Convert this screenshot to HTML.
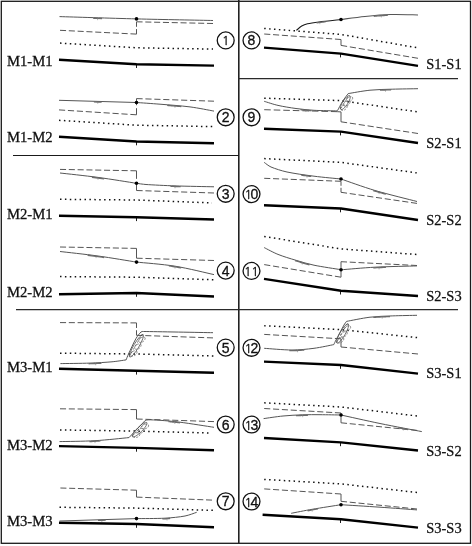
<!DOCTYPE html>
<html><head><meta charset="utf-8"><style>
html,body{margin:0;padding:0;background:#fff;}
svg{display:block;}
.lb{font-family:"Liberation Serif",serif;font-size:15.3px;fill:#111;stroke:#111;stroke-width:0.28px;}
.cn{font-family:"Liberation Sans",sans-serif;font-size:14px;fill:#111;text-anchor:middle;stroke:#111;stroke-width:0.3px;}
.one{font-family:"NanumGothic","Liberation Sans",sans-serif;font-size:12.4px;}
.cn2{}
</style></head><body>
<svg width="472" height="546" viewBox="0 0 472 546">
<rect x="1.3" y="1.3" width="469.2" height="542.0" fill="none" stroke="#1a1a1a" stroke-width="1.3"/>
<line x1="238.8" y1="0" x2="238.8" y2="544" stroke="#222" stroke-width="1.6"/>
<line x1="13" y1="155.5" x2="239" y2="155.5" stroke="#1a1a1a" stroke-width="1.2"/>
<line x1="16" y1="309.6" x2="458" y2="309.6" stroke="#2a2a2a" stroke-width="1.2"/>
<line x1="238" y1="78.7" x2="458" y2="78.7" stroke="#2a2a2a" stroke-width="1.25"/>
<text transform="translate(6.9 65.5) scale(0.96 1)" class="lb">M1-M1</text>
<text transform="translate(6.9 142.3) scale(0.96 1)" class="lb">M1-M2</text>
<text transform="translate(6.9 219.4) scale(0.96 1)" class="lb">M2-M1</text>
<text transform="translate(6.9 297.4) scale(0.96 1)" class="lb">M2-M2</text>
<text transform="translate(6.9 372.4) scale(0.96 1)" class="lb">M3-M1</text>
<text transform="translate(6.9 450.0) scale(0.96 1)" class="lb">M3-M2</text>
<text transform="translate(6.9 526.1) scale(0.96 1)" class="lb">M3-M3</text>
<text transform="translate(426.3 68.9) scale(0.945 1)" class="lb">S1-S1</text>
<text transform="translate(426.3 148.2) scale(0.945 1)" class="lb">S2-S1</text>
<text transform="translate(426.3 225.1) scale(0.945 1)" class="lb">S2-S2</text>
<text transform="translate(426.3 301.4) scale(0.945 1)" class="lb">S2-S3</text>
<text transform="translate(426.3 378.3) scale(0.945 1)" class="lb">S3-S1</text>
<text transform="translate(426.3 456.3) scale(0.945 1)" class="lb">S3-S2</text>
<text transform="translate(426.3 532.5) scale(0.945 1)" class="lb">S3-S3</text>
<circle cx="225.7" cy="40.4" r="8.45" fill="none" stroke="#111" stroke-width="1.3"/>
<text x="225.7" y="45.4" class="cn"><tspan class="one">1</tspan></text>
<circle cx="225.7" cy="117.3" r="8.45" fill="none" stroke="#111" stroke-width="1.3"/>
<text x="225.7" y="122.3" class="cn"><tspan>2</tspan></text>
<circle cx="225.7" cy="193.8" r="8.45" fill="none" stroke="#111" stroke-width="1.3"/>
<text x="225.7" y="198.8" class="cn"><tspan>3</tspan></text>
<circle cx="225.7" cy="270.6" r="8.45" fill="none" stroke="#111" stroke-width="1.3"/>
<text x="225.7" y="275.6" class="cn"><tspan>4</tspan></text>
<circle cx="225.7" cy="347.6" r="8.45" fill="none" stroke="#111" stroke-width="1.3"/>
<text x="225.7" y="352.6" class="cn"><tspan>5</tspan></text>
<circle cx="225.7" cy="424.5" r="8.45" fill="none" stroke="#111" stroke-width="1.3"/>
<text x="225.7" y="429.5" class="cn"><tspan>6</tspan></text>
<circle cx="225.7" cy="501.3" r="8.45" fill="none" stroke="#111" stroke-width="1.3"/>
<text x="225.7" y="506.3" class="cn"><tspan>7</tspan></text>
<circle cx="251.5" cy="40.4" r="8.45" fill="none" stroke="#111" stroke-width="1.3"/>
<text x="251.5" y="45.4" class="cn"><tspan>8</tspan></text>
<circle cx="251.5" cy="117.3" r="8.45" fill="none" stroke="#111" stroke-width="1.3"/>
<text x="251.5" y="122.3" class="cn"><tspan>9</tspan></text>
<circle cx="251.5" cy="194.1" r="8.45" fill="none" stroke="#111" stroke-width="1.3"/>
<text x="251.4" y="199.1" class="cn cn2"><tspan class="one">1</tspan><tspan dx="-1.3">0</tspan></text>
<circle cx="251.5" cy="270.9" r="8.45" fill="none" stroke="#111" stroke-width="1.3"/>
<text x="251.4" y="275.9" class="cn cn2"><tspan class="one">1</tspan><tspan class="one" dx="-0.4">1</tspan></text>
<circle cx="251.5" cy="347.8" r="8.45" fill="none" stroke="#111" stroke-width="1.3"/>
<text x="251.4" y="352.8" class="cn cn2"><tspan class="one">1</tspan><tspan dx="-1.3">2</tspan></text>
<circle cx="251.5" cy="424.5" r="8.45" fill="none" stroke="#111" stroke-width="1.3"/>
<text x="251.4" y="429.5" class="cn cn2"><tspan class="one">1</tspan><tspan dx="-1.3">3</tspan></text>
<circle cx="251.5" cy="501.5" r="8.45" fill="none" stroke="#111" stroke-width="1.3"/>
<text x="251.4" y="506.5" class="cn cn2"><tspan class="one">1</tspan><tspan dx="-1.3">4</tspan></text>
<line x1="136.5" y1="64.2" x2="136.5" y2="68.0" stroke="#111" stroke-width="0.95"/>
<path d="M59.00 59.70 L136.50 64.20 L214.00 65.60" fill="none" stroke="#000" stroke-width="2.4" stroke-linejoin="round"/>
<path d="M60.00 43.10 L136.50 47.80 L213.00 49.10" fill="none" stroke="#111" stroke-width="1.5" stroke-dasharray="1.5 3.4"/>
<line x1="60.00" y1="30.30" x2="136.50" y2="34.10" stroke="#555" stroke-width="1.0" stroke-dasharray="6.073 2.743"/>
<line x1="136.50" y1="34.10" x2="136.50" y2="21.80" stroke="#555" stroke-width="1.0" stroke-dasharray="5.017 2.266"/>
<line x1="136.50" y1="21.80" x2="213.00" y2="23.50" stroke="#555" stroke-width="1.0" stroke-dasharray="6.067 2.740"/>
<path d="M59.50 16.60 C72.33 16.98 110.92 18.25 136.50 18.90 C162.00 19.55 200.25 20.23 213.00 20.50" fill="none" stroke="#555" stroke-width="1.0"/>
<path d="M93.22 18.25 L97.60 18.38 L102.04 18.52" fill="none" stroke="#6a6a6a" stroke-width="1.35"/>
<line x1="97.60" y1="18.38" x2="97.60" y2="20.18" stroke="#888" stroke-width="0.6"/>
<circle cx="136.5" cy="18.9" r="1.8" fill="#000"/>
<line x1="136.5" y1="141.5" x2="136.5" y2="145.3" stroke="#111" stroke-width="0.95"/>
<path d="M59.00 136.70 L136.50 141.50 L214.00 143.20" fill="none" stroke="#000" stroke-width="2.4" stroke-linejoin="round"/>
<path d="M59.00 120.30 L136.50 125.20 L213.00 126.60" fill="none" stroke="#111" stroke-width="1.5" stroke-dasharray="1.5 3.4"/>
<line x1="59.00" y1="109.90" x2="136.50" y2="114.80" stroke="#555" stroke-width="1.0" stroke-dasharray="6.157 2.780"/>
<line x1="136.50" y1="114.80" x2="136.50" y2="98.60" stroke="#555" stroke-width="1.0" stroke-dasharray="6.608 2.984"/>
<line x1="136.50" y1="98.60" x2="214.00" y2="101.20" stroke="#555" stroke-width="1.0" stroke-dasharray="6.148 2.776"/>
<path d="M59.00 100.30 L136.50 102.50" fill="none" stroke="#555" stroke-width="1.0"/>
<path d="M136.50 102.50 C140.42 102.78 152.17 103.56 160.00 104.20 C168.92 104.93 181.00 105.75 190.00 106.90 C198.06 107.93 210.00 110.40 214.00 111.10" fill="none" stroke="#555" stroke-width="1.0"/>
<path d="M93.88 101.89 L97.75 102.00 L101.62 102.11" fill="none" stroke="#6a6a6a" stroke-width="1.35"/>
<line x1="97.75" y1="102.00" x2="97.75" y2="103.80" stroke="#888" stroke-width="0.6"/>
<path d="M167.18 105.37 L168.71 105.49 L170.26 105.61 L171.82 105.74 L173.39 105.86 L174.97 105.99 L176.55 106.13 L178.12 106.26 L179.68 106.40 L181.24 106.55" fill="none" stroke="#6a6a6a" stroke-width="1.35"/>
<line x1="174.97" y1="105.99" x2="174.97" y2="107.79" stroke="#888" stroke-width="0.6"/>
<circle cx="136.5" cy="102.5" r="1.8" fill="#000"/>
<line x1="136.5" y1="217.3" x2="136.5" y2="221.10000000000002" stroke="#111" stroke-width="0.95"/>
<path d="M59.00 215.80 L136.50 217.30 L214.00 219.50" fill="none" stroke="#000" stroke-width="2.4" stroke-linejoin="round"/>
<path d="M60.00 199.30 L136.50 200.00 L212.00 202.90" fill="none" stroke="#111" stroke-width="1.5" stroke-dasharray="1.5 3.4"/>
<line x1="60.00" y1="169.40" x2="136.50" y2="170.80" stroke="#555" stroke-width="1.0" stroke-dasharray="6.066 2.740"/>
<line x1="136.50" y1="170.80" x2="136.50" y2="190.50" stroke="#555" stroke-width="1.0" stroke-dasharray="8.036 3.629"/>
<line x1="136.50" y1="190.50" x2="214.00" y2="193.00" stroke="#555" stroke-width="1.0" stroke-dasharray="6.148 2.776"/>
<path d="M60.00 173.00 C66.33 173.73 85.36 175.70 98.00 177.40 C110.75 179.12 130.08 182.32 136.50 183.30" fill="none" stroke="#555" stroke-width="1.0"/>
<path d="M136.50 183.30 C138.08 183.50 142.82 184.28 146.00 184.50 C152.42 184.93 165.33 185.57 175.00 185.90 C186.33 186.28 207.50 186.65 214.00 186.80" fill="none" stroke="#555" stroke-width="1.0"/>
<path d="M91.95 177.22 L94.04 177.48 L96.06 177.74 L98.00 178.00 L99.96 178.27 L102.00 178.56 L104.12 178.86" fill="none" stroke="#6a6a6a" stroke-width="1.35"/>
<line x1="98.00" y1="178.00" x2="98.00" y2="179.80" stroke="#888" stroke-width="0.6"/>
<path d="M170.46 186.33 L172.01 186.39 L173.53 186.45 L175.00 186.50 L176.77 186.56 L178.67 186.61 L180.68 186.67" fill="none" stroke="#6a6a6a" stroke-width="1.35"/>
<line x1="175.00" y1="186.50" x2="175.00" y2="188.30" stroke="#888" stroke-width="0.6"/>
<circle cx="136.5" cy="183.3" r="1.8" fill="#000"/>
<line x1="136.5" y1="293.0" x2="136.5" y2="296.8" stroke="#111" stroke-width="0.95"/>
<path d="M59.00 294.20 L136.50 293.00 L214.00 296.50" fill="none" stroke="#000" stroke-width="2.4" stroke-linejoin="round"/>
<path d="M60.00 276.60 L136.50 277.20 L214.00 279.80" fill="none" stroke="#111" stroke-width="1.5" stroke-dasharray="1.5 3.4"/>
<line x1="60.00" y1="247.00" x2="136.50" y2="248.40" stroke="#555" stroke-width="1.0" stroke-dasharray="6.066 2.740"/>
<line x1="136.50" y1="248.40" x2="136.50" y2="258.20" stroke="#555" stroke-width="1.0"/>
<line x1="136.50" y1="258.20" x2="214.00" y2="260.50" stroke="#555" stroke-width="1.0" stroke-dasharray="6.147 2.776"/>
<path d="M60.00 251.50 C66.33 252.25 85.37 254.25 98.00 256.00 C110.75 257.77 130.08 261.08 136.50 262.10" fill="none" stroke="#555" stroke-width="1.0"/>
<path d="M136.50 262.10 C142.92 262.78 162.26 264.14 175.00 266.20 C187.92 268.28 207.50 273.20 214.00 274.60" fill="none" stroke="#555" stroke-width="1.0"/>
<path d="M87.62 255.26 L89.80 255.53 L91.95 255.80 L94.04 256.07 L96.06 256.34 L98.00 256.60 L99.96 256.88 L102.00 257.17 L104.12 257.49" fill="none" stroke="#6a6a6a" stroke-width="1.35"/>
<line x1="96.06" y1="256.34" x2="96.06" y2="258.14" stroke="#888" stroke-width="0.6"/>
<path d="M168.89 265.92 L171.00 266.20 L173.04 266.50 L175.00 266.80 L176.99 267.13 L179.06 267.50 L181.20 267.91" fill="none" stroke="#6a6a6a" stroke-width="1.35"/>
<line x1="175.00" y1="266.80" x2="175.00" y2="268.60" stroke="#888" stroke-width="0.6"/>
<circle cx="136.5" cy="262.1" r="1.8" fill="#000"/>
<line x1="136.5" y1="370.8" x2="136.5" y2="374.6" stroke="#111" stroke-width="0.95"/>
<path d="M59.00 368.70 L136.50 370.80 L214.00 372.80" fill="none" stroke="#000" stroke-width="2.4" stroke-linejoin="round"/>
<path d="M60.00 353.20 L136.50 354.00 L214.00 356.00" fill="none" stroke="#111" stroke-width="1.5" stroke-dasharray="1.5 3.4"/>
<line x1="60.00" y1="322.60" x2="136.50" y2="322.90" stroke="#555" stroke-width="1.0" stroke-dasharray="6.065 2.739"/>
<line x1="136.50" y1="322.90" x2="136.50" y2="335.30" stroke="#555" stroke-width="1.0" stroke-dasharray="5.058 2.284"/>
<line x1="136.50" y1="335.30" x2="213.00" y2="337.90" stroke="#555" stroke-width="1.0" stroke-dasharray="6.069 2.741"/>
<path d="M60.40 363.60 C65.33 363.52 81.40 363.40 90.00 363.10 C97.34 362.84 105.98 362.33 112.00 361.80 C116.72 361.38 123.75 360.22 126.10 359.90" fill="none" stroke="#555" stroke-width="1.0"/>
<path d="M126.10 359.90 C126.50 358.92 127.61 355.93 128.50 354.00 C130.15 350.43 133.92 342.17 136.00 338.50 C137.35 336.12 139.75 333.17 141.00 332.00 C141.62 331.42 142.65 331.49 143.50 331.50 C155.50 331.62 201.42 332.50 213.00 332.70" fill="none" stroke="#555" stroke-width="1.0"/>
<path d="M88.66 363.74 L90.00 363.70 L91.11 363.66 L92.24 363.62 L93.38 363.57 L94.53 363.52 L95.69 363.46 L96.85 363.41 L98.02 363.35 L99.18 363.29 L100.34 363.22 L101.50 363.15" fill="none" stroke="#6a6a6a" stroke-width="1.35"/>
<line x1="95.69" y1="363.46" x2="95.69" y2="365.26" stroke="#888" stroke-width="0.6"/>
<ellipse cx="136.47" cy="345.77" rx="13.10" ry="2.6" transform="rotate(-59.4 136.47 345.77)" fill="none" stroke="#555" stroke-width="0.75"/>
<ellipse cx="133.79" cy="353.44" rx="3.6" ry="2.2" transform="rotate(-34.4 133.79 353.44)" fill="none" stroke="#666" stroke-width="0.7" stroke-dasharray="2.2 1.2"/>
<ellipse cx="137.85" cy="346.58" rx="3.6" ry="2.2" transform="rotate(-34.4 137.85 346.58)" fill="none" stroke="#666" stroke-width="0.7" stroke-dasharray="2.2 1.2"/>
<ellipse cx="141.91" cy="339.72" rx="3.6" ry="2.2" transform="rotate(-34.4 141.91 339.72)" fill="none" stroke="#666" stroke-width="0.7" stroke-dasharray="2.2 1.2"/>
<line x1="129.26" y1="356.39" x2="142.31" y2="334.34" stroke="#444" stroke-width="0.75" stroke-dasharray="2.2 1.8"/>
<line x1="136.5" y1="447.9" x2="136.5" y2="451.7" stroke="#111" stroke-width="0.95"/>
<path d="M59.00 446.10 L136.50 447.90 L214.00 450.20" fill="none" stroke="#000" stroke-width="2.4" stroke-linejoin="round"/>
<path d="M60.00 429.90 L136.50 431.10 L210.00 433.00" fill="none" stroke="#111" stroke-width="1.5" stroke-dasharray="1.5 3.4"/>
<line x1="60.00" y1="408.80" x2="136.50" y2="409.60" stroke="#555" stroke-width="1.0" stroke-dasharray="6.066 2.739"/>
<line x1="136.50" y1="409.60" x2="136.50" y2="419.00" stroke="#555" stroke-width="1.0"/>
<line x1="136.50" y1="419.00" x2="214.00" y2="421.60" stroke="#555" stroke-width="1.0" stroke-dasharray="6.148 2.776"/>
<path d="M59.50 441.60 C65.42 441.45 83.42 441.37 95.00 440.70 C106.36 440.05 123.33 438.12 129.00 437.60" fill="none" stroke="#555" stroke-width="1.0"/>
<path d="M129.00 437.60 L145.20 420.50" fill="none" stroke="#555" stroke-width="1.0"/>
<path d="M145.20 420.50 C145.67 420.38 147.04 419.81 148.00 419.80 C150.47 419.77 156.01 420.00 160.00 420.30 C165.33 420.70 173.36 421.34 180.00 422.20 C189.00 423.37 208.33 426.45 214.00 427.30" fill="none" stroke="#555" stroke-width="1.0"/>
<path d="M89.42 441.56 L91.35 441.48 L93.22 441.40 L95.00 441.30 L96.74 441.19 L98.56 441.07 L100.43 440.93" fill="none" stroke="#6a6a6a" stroke-width="1.35"/>
<line x1="95.00" y1="441.30" x2="95.00" y2="443.10" stroke="#888" stroke-width="0.6"/>
<path d="M168.46 421.58 L169.51 421.68 L170.56 421.77 L171.63 421.87 L172.69 421.98 L173.76 422.09 L174.82 422.20 L175.88 422.31 L176.93 422.43 L177.97 422.55 L178.99 422.67 L180.00 422.80" fill="none" stroke="#6a6a6a" stroke-width="1.35"/>
<line x1="174.82" y1="422.20" x2="174.82" y2="424.00" stroke="#888" stroke-width="0.6"/>
<ellipse cx="139.66" cy="429.66" rx="10.08" ry="2.6" transform="rotate(-45.0 139.66 429.66)" fill="none" stroke="#555" stroke-width="0.75"/>
<ellipse cx="136.46" cy="435.14" rx="3.6" ry="2.2" transform="rotate(-20.0 136.46 435.14)" fill="none" stroke="#666" stroke-width="0.7" stroke-dasharray="2.2 1.2"/>
<ellipse cx="140.80" cy="430.80" rx="3.6" ry="2.2" transform="rotate(-20.0 140.80 430.80)" fill="none" stroke="#666" stroke-width="0.7" stroke-dasharray="2.2 1.2"/>
<ellipse cx="145.14" cy="426.46" rx="3.6" ry="2.2" transform="rotate(-20.0 145.14 426.46)" fill="none" stroke="#666" stroke-width="0.7" stroke-dasharray="2.2 1.2"/>
<line x1="132.12" y1="436.07" x2="146.07" y2="422.12" stroke="#444" stroke-width="0.75" stroke-dasharray="2.2 1.8"/>
<line x1="136.5" y1="524.0" x2="136.5" y2="527.8" stroke="#111" stroke-width="0.95"/>
<path d="M59.00 522.80 L136.50 524.00 L214.00 527.20" fill="none" stroke="#000" stroke-width="2.4" stroke-linejoin="round"/>
<path d="M59.50 507.30 L136.50 508.10 L214.00 510.40" fill="none" stroke="#111" stroke-width="1.5" stroke-dasharray="1.5 3.4"/>
<line x1="60.40" y1="488.00" x2="136.50" y2="490.20" stroke="#555" stroke-width="1.0" stroke-dasharray="6.036 2.726"/>
<line x1="136.50" y1="490.20" x2="136.50" y2="497.10" stroke="#555" stroke-width="1.0"/>
<line x1="136.50" y1="497.10" x2="212.00" y2="500.10" stroke="#555" stroke-width="1.0" stroke-dasharray="5.991 2.705"/>
<path d="M59.50 521.00 L136.50 518.60" fill="none" stroke="#555" stroke-width="1.0"/>
<path d="M136.50 518.60 C141.25 518.53 156.92 518.63 165.00 518.20 C171.70 517.84 179.72 516.98 185.00 516.00 C189.02 515.25 194.75 512.92 196.70 512.30" fill="none" stroke="#555" stroke-width="1.0"/>
<path d="M98.00 520.40 L101.85 520.28 L105.70 520.16" fill="none" stroke="#6a6a6a" stroke-width="1.35"/>
<line x1="101.85" y1="520.28" x2="101.85" y2="522.08" stroke="#888" stroke-width="0.6"/>
<path d="M162.37 518.91 L163.73 518.86 L165.00 518.80 L166.01 518.74 L167.04 518.68 L168.09 518.61 L169.14 518.53 L170.21 518.44" fill="none" stroke="#6a6a6a" stroke-width="1.35"/>
<line x1="167.04" y1="518.68" x2="167.04" y2="520.48" stroke="#888" stroke-width="0.6"/>
<circle cx="136.5" cy="518.6" r="1.8" fill="#000"/>
<line x1="340.5" y1="53.6" x2="340.5" y2="57.4" stroke="#111" stroke-width="0.95"/>
<path d="M264.00 47.60 L341.00 53.60 L418.00 65.90" fill="none" stroke="#000" stroke-width="2.4" stroke-linejoin="round"/>
<path d="M264.20 28.50 L341.00 34.40 L418.00 47.90" fill="none" stroke="#111" stroke-width="1.5" stroke-dasharray="1.5 3.4"/>
<line x1="264.20" y1="34.00" x2="341.00" y2="39.50" stroke="#555" stroke-width="1.0" stroke-dasharray="6.105 2.757"/>
<line x1="341.00" y1="39.50" x2="341.00" y2="45.40" stroke="#555" stroke-width="1.0"/>
<line x1="341.00" y1="45.40" x2="418.00" y2="58.30" stroke="#555" stroke-width="1.0" stroke-dasharray="6.190 2.795"/>
<path d="M296.40 30.40 C297.28 29.67 299.85 27.12 301.70 26.00 C303.48 24.93 305.48 24.18 307.50 23.70 C310.38 23.02 315.15 22.38 319.00 21.90 C324.58 21.20 337.33 19.90 341.00 19.50" fill="none" stroke="#1a1a1a" stroke-width="1.05"/>
<path d="M341.00 19.50 C345.00 19.00 356.98 17.30 365.00 16.50 C373.22 15.68 381.85 14.86 390.30 14.60 C399.13 14.33 413.38 14.85 418.00 14.90" fill="none" stroke="#555" stroke-width="1.05"/>
<path d="M373.75 16.26 L375.02 16.15 L376.29 16.04 L377.56 15.94 L378.83 15.84 L380.11 15.74 L381.38 15.65 L382.66 15.57 L383.94 15.49 L385.21 15.42 L386.49 15.35 L387.76 15.29" fill="none" stroke="#6a6a6a" stroke-width="1.35"/>
<line x1="381.38" y1="15.65" x2="381.38" y2="17.45" stroke="#888" stroke-width="0.6"/>
<path d="M316.60 22.81 L317.22 22.73 L317.82 22.65 L318.42 22.57 L319.00 22.50 L319.89 22.39 L320.87 22.27 L321.94 22.15 L323.08 22.02 L324.28 21.89 L325.52 21.75" fill="none" stroke="#6a6a6a" stroke-width="1.35"/>
<line x1="319.89" y1="22.39" x2="319.89" y2="24.19" stroke="#888" stroke-width="0.6"/>
<circle cx="341" cy="19.5" r="1.8" fill="#000"/>
<line x1="340.5" y1="131.6" x2="340.5" y2="135.4" stroke="#111" stroke-width="0.95"/>
<path d="M264.00 128.70 L341.00 131.60 L418.00 143.00" fill="none" stroke="#000" stroke-width="2.4" stroke-linejoin="round"/>
<path d="M264.20 98.20 L341.00 100.60 L418.90 112.10" fill="none" stroke="#111" stroke-width="1.5" stroke-dasharray="1.5 3.4"/>
<line x1="264.20" y1="109.70" x2="337.50" y2="111.70" stroke="#555" stroke-width="1.0" stroke-dasharray="6.570 2.967"/>
<line x1="337.50" y1="111.70" x2="341.00" y2="111.90" stroke="#555" stroke-width="1.0"/>
<line x1="341.00" y1="111.90" x2="341.00" y2="121.80" stroke="#555" stroke-width="1.0"/>
<line x1="341.00" y1="121.80" x2="418.00" y2="133.50" stroke="#555" stroke-width="1.0" stroke-dasharray="6.175 2.789"/>
<path d="M264.20 101.30 C266.50 101.98 273.32 104.34 278.00 105.40 C283.30 106.60 290.00 107.68 296.00 108.50 C301.97 109.31 307.98 109.95 314.00 110.30 C320.92 110.70 333.58 110.80 337.50 110.90" fill="none" stroke="#555" stroke-width="1.0"/>
<path d="M337.50 110.60 C338.38 109.00 341.02 103.83 342.80 101.00 C344.43 98.42 347.30 94.83 348.20 93.60" fill="none" stroke="#555" stroke-width="1.0"/>
<path d="M348.20 93.60 C351.83 93.03 362.68 90.93 370.00 90.20 C377.33 89.47 384.80 89.43 392.20 89.20 C400.20 88.95 413.70 88.78 418.00 88.70" fill="none" stroke="#555" stroke-width="1.0"/>
<path d="M379.96 90.15 L381.07 90.11 L382.19 90.07 L383.30 90.04 L384.41 90.01 L385.53 89.98 L386.64 89.95 L387.75 89.92 L388.86 89.89 L389.98 89.86 L391.09 89.83" fill="none" stroke="#6a6a6a" stroke-width="1.35"/>
<line x1="385.53" y1="89.98" x2="385.53" y2="91.78" stroke="#888" stroke-width="0.6"/>
<path d="M300.49 109.68 L301.39 109.78 L302.28 109.88 L303.18 109.98 L304.08 110.08 L304.98 110.17 L305.88 110.26 L306.78 110.35 L307.69 110.43 L308.59 110.51 L309.49 110.59 L310.39 110.66 L311.29 110.72" fill="none" stroke="#6a6a6a" stroke-width="1.35"/>
<line x1="305.88" y1="110.26" x2="305.88" y2="112.06" stroke="#888" stroke-width="0.6"/>
<ellipse cx="345.33" cy="102.59" rx="8.22" ry="2.6" transform="rotate(-57.1 345.33 102.59)" fill="none" stroke="#555" stroke-width="0.75"/>
<ellipse cx="343.96" cy="107.65" rx="3.6" ry="2.2" transform="rotate(-32.1 343.96 107.65)" fill="none" stroke="#666" stroke-width="0.7" stroke-dasharray="2.2 1.2"/>
<ellipse cx="346.67" cy="103.45" rx="3.6" ry="2.2" transform="rotate(-32.1 346.67 103.45)" fill="none" stroke="#666" stroke-width="0.7" stroke-dasharray="2.2 1.2"/>
<ellipse cx="349.39" cy="99.25" rx="3.6" ry="2.2" transform="rotate(-32.1 349.39 99.25)" fill="none" stroke="#666" stroke-width="0.7" stroke-dasharray="2.2 1.2"/>
<line x1="340.29" y1="108.90" x2="349.02" y2="95.40" stroke="#444" stroke-width="0.75" stroke-dasharray="2.2 1.8"/>
<line x1="340.5" y1="208.5" x2="340.5" y2="212.3" stroke="#111" stroke-width="0.95"/>
<path d="M264.00 205.30 L341.00 208.50 L418.00 220.00" fill="none" stroke="#000" stroke-width="2.4" stroke-linejoin="round"/>
<path d="M264.20 158.60 L341.00 162.40 L417.00 172.90" fill="none" stroke="#111" stroke-width="1.5" stroke-dasharray="1.5 3.4"/>
<line x1="264.20" y1="178.30" x2="341.00" y2="181.30" stroke="#555" stroke-width="1.0" stroke-dasharray="6.094 2.752"/>
<line x1="341.00" y1="181.30" x2="341.00" y2="192.30" stroke="#555" stroke-width="1.0" stroke-dasharray="4.487 2.026"/>
<line x1="341.00" y1="192.30" x2="417.00" y2="203.40" stroke="#555" stroke-width="1.0" stroke-dasharray="6.090 2.750"/>
<path d="M264.20 162.40 C265.33 163.17 268.48 165.94 271.00 167.00 C274.80 168.60 281.54 170.83 287.00 172.00 C294.17 173.53 305.00 175.03 314.00 176.20 C322.97 177.36 336.50 178.53 341.00 179.00" fill="none" stroke="#555" stroke-width="1.0"/>
<path d="M341.00 179.00 C346.67 180.92 363.53 187.10 375.00 190.50 C387.67 194.25 410.00 199.67 417.00 201.50" fill="none" stroke="#555" stroke-width="1.0"/>
<path d="M373.24 190.57 L375.00 191.10 L376.97 191.67 L379.07 192.27 L381.27 192.88 L383.56 193.51 L385.92 194.14" fill="none" stroke="#6a6a6a" stroke-width="1.35"/>
<line x1="379.07" y1="192.27" x2="379.07" y2="194.07" stroke="#888" stroke-width="0.6"/>
<path d="M301.24 175.05 L302.67 175.26 L304.11 175.47 L305.55 175.67 L306.99 175.87 L308.42 176.06 L309.84 176.25 L311.25 176.44" fill="none" stroke="#6a6a6a" stroke-width="1.35"/>
<line x1="306.99" y1="175.87" x2="306.99" y2="177.67" stroke="#888" stroke-width="0.6"/>
<circle cx="341" cy="179" r="1.8" fill="#000"/>
<line x1="340.5" y1="290.7" x2="340.5" y2="294.5" stroke="#111" stroke-width="0.95"/>
<path d="M264.00 278.90 L341.00 290.70 L418.00 296.00" fill="none" stroke="#000" stroke-width="2.4" stroke-linejoin="round"/>
<path d="M264.20 236.50 L341.00 248.90 L418.00 254.60" fill="none" stroke="#111" stroke-width="1.5" stroke-dasharray="1.5 3.4"/>
<line x1="264.20" y1="264.60" x2="341.00" y2="277.20" stroke="#555" stroke-width="1.0" stroke-dasharray="6.170 2.787"/>
<line x1="341.00" y1="277.20" x2="341.00" y2="261.70" stroke="#555" stroke-width="1.0" stroke-dasharray="6.322 2.855"/>
<line x1="341.00" y1="261.70" x2="417.00" y2="265.50" stroke="#555" stroke-width="1.0" stroke-dasharray="6.033 2.725"/>
<path d="M264.20 247.60 C266.50 248.73 273.24 252.50 278.00 254.40 C283.30 256.52 290.00 258.50 296.00 260.30 C301.96 262.09 307.91 263.93 314.00 265.20 C321.50 266.77 336.50 268.95 341.00 269.70" fill="none" stroke="#555" stroke-width="1.0"/>
<path d="M341.00 269.80 C346.67 269.37 363.65 267.78 375.00 267.20 C387.67 266.55 410.00 266.12 417.00 265.90" fill="none" stroke="#555" stroke-width="1.0"/>
<path d="M295.10 260.63 L296.00 260.90 L296.89 261.17 L297.79 261.44 L298.68 261.71 L299.57 261.97 L300.47 262.24 L301.36 262.51 L302.26 262.77 L303.16 263.03 L304.05 263.29 L304.95 263.54 L305.85 263.79 L306.75 264.04 L307.65 264.28 L308.55 264.52 L309.46 264.75" fill="none" stroke="#6a6a6a" stroke-width="1.35"/>
<line x1="302.26" y1="262.77" x2="302.26" y2="264.57" stroke="#888" stroke-width="0.6"/>
<path d="M373.26 267.89 L375.00 267.80 L376.97 267.70 L379.07 267.61 L381.27 267.52 L383.56 267.44 L385.92 267.35" fill="none" stroke="#6a6a6a" stroke-width="1.35"/>
<line x1="379.07" y1="267.61" x2="379.07" y2="269.41" stroke="#888" stroke-width="0.6"/>
<circle cx="341" cy="269.8" r="1.8" fill="#000"/>
<line x1="340.5" y1="365.0" x2="340.5" y2="368.8" stroke="#111" stroke-width="0.95"/>
<path d="M264.00 361.60 L341.00 365.00 L418.00 373.60" fill="none" stroke="#000" stroke-width="2.4" stroke-linejoin="round"/>
<path d="M264.20 325.80 L341.00 329.60 L418.90 337.80" fill="none" stroke="#111" stroke-width="1.5" stroke-dasharray="1.5 3.4"/>
<line x1="264.20" y1="334.40" x2="341.00" y2="338.80" stroke="#555" stroke-width="1.0" stroke-dasharray="6.099 2.754"/>
<line x1="341.00" y1="338.80" x2="341.00" y2="347.00" stroke="#555" stroke-width="1.0"/>
<line x1="341.00" y1="347.00" x2="418.00" y2="354.00" stroke="#555" stroke-width="1.0" stroke-dasharray="6.130 2.768"/>
<path d="M264.20 348.30 C268.83 348.58 283.70 350.00 292.00 350.00 C299.36 350.00 307.03 349.20 314.00 348.30 C320.66 347.44 330.50 345.22 333.80 344.60" fill="none" stroke="#555" stroke-width="1.0"/>
<path d="M333.80 344.60 C334.17 343.83 335.22 341.51 336.00 340.00 C337.70 336.73 342.25 328.10 344.00 325.00 C344.72 323.73 346.08 322.00 346.50 321.40" fill="none" stroke="#555" stroke-width="1.0"/>
<path d="M346.50 321.40 C350.42 320.70 362.38 318.12 370.00 317.20 C377.36 316.31 384.79 316.20 392.20 315.90 C400.03 315.58 412.87 315.40 417.00 315.30" fill="none" stroke="#555" stroke-width="1.0"/>
<path d="M289.33 350.56 L290.71 350.59 L292.00 350.60 L293.11 350.59 L294.22 350.58 L295.33 350.55 L296.44 350.51 L297.56 350.46 L298.68 350.40 L299.80 350.34 L300.92 350.26 L302.03 350.18 L303.15 350.09 L304.26 349.99" fill="none" stroke="#6a6a6a" stroke-width="1.35"/>
<line x1="297.56" y1="350.46" x2="297.56" y2="352.26" stroke="#888" stroke-width="0.6"/>
<path d="M373.32 317.45 L374.42 317.35 L375.53 317.27 L376.64 317.19 L377.75 317.11 L378.86 317.05 L379.97 316.99 L381.08 316.93 L382.19 316.88 L383.31 316.83 L384.42 316.79 L385.53 316.75 L386.64 316.70 L387.75 316.67 L388.87 316.63 L389.98 316.59" fill="none" stroke="#6a6a6a" stroke-width="1.35"/>
<line x1="382.19" y1="316.88" x2="382.19" y2="318.68" stroke="#888" stroke-width="0.6"/>
<ellipse cx="342.63" cy="333.50" rx="11.17" ry="2.6" transform="rotate(-59.8 342.63 333.50)" fill="none" stroke="#555" stroke-width="0.75"/>
<ellipse cx="340.60" cy="340.19" rx="3.6" ry="2.2" transform="rotate(-34.8 340.60 340.19)" fill="none" stroke="#666" stroke-width="0.7" stroke-dasharray="2.2 1.2"/>
<ellipse cx="344.01" cy="334.31" rx="3.6" ry="2.2" transform="rotate(-34.8 344.01 334.31)" fill="none" stroke="#666" stroke-width="0.7" stroke-dasharray="2.2 1.2"/>
<ellipse cx="347.43" cy="328.43" rx="3.6" ry="2.2" transform="rotate(-34.8 347.43 328.43)" fill="none" stroke="#666" stroke-width="0.7" stroke-dasharray="2.2 1.2"/>
<line x1="336.45" y1="342.55" x2="347.43" y2="323.65" stroke="#444" stroke-width="0.75" stroke-dasharray="2.2 1.8"/>
<line x1="340.5" y1="442.4" x2="340.5" y2="446.2" stroke="#111" stroke-width="0.95"/>
<path d="M264.00 438.00 L341.00 442.40 L418.00 450.50" fill="none" stroke="#000" stroke-width="2.4" stroke-linejoin="round"/>
<path d="M264.20 402.80 L341.00 407.00 L419.90 416.30" fill="none" stroke="#111" stroke-width="1.5" stroke-dasharray="1.5 3.4"/>
<line x1="264.20" y1="408.50" x2="341.00" y2="413.00" stroke="#555" stroke-width="1.0" stroke-dasharray="6.099 2.755"/>
<line x1="341.00" y1="413.00" x2="341.00" y2="422.80" stroke="#555" stroke-width="1.0"/>
<line x1="341.00" y1="422.80" x2="417.00" y2="430.40" stroke="#555" stroke-width="1.0" stroke-dasharray="6.056 2.735"/>
<path d="M263.60 418.60 C266.83 418.17 276.51 416.63 283.00 416.00 C289.52 415.37 296.53 415.02 302.70 414.80 C308.46 414.60 314.23 414.67 320.00 414.70 C326.38 414.73 337.50 414.95 341.00 415.00" fill="none" stroke="#555" stroke-width="1.0"/>
<path d="M341.00 415.00 C347.50 416.42 366.97 420.82 380.00 423.50 C393.47 426.27 414.83 430.25 421.80 431.60" fill="none" stroke="#555" stroke-width="1.0"/>
<path d="M295.97 415.68 L296.96 415.64 L297.94 415.59 L298.91 415.55 L299.87 415.51 L300.83 415.47 L301.77 415.43 L302.70 415.40 L303.56 415.37 L304.43 415.35 L305.29 415.33 L306.16 415.31 L307.02 415.29 L307.89 415.28" fill="none" stroke="#6a6a6a" stroke-width="1.35"/>
<line x1="302.70" y1="415.40" x2="302.70" y2="417.20" stroke="#888" stroke-width="0.6"/>
<path d="M398.52 427.76 L400.95 428.22 L403.34 428.68 L405.68 429.13 L407.96 429.56" fill="none" stroke="#6a6a6a" stroke-width="1.35"/>
<line x1="403.34" y1="428.68" x2="403.34" y2="430.48" stroke="#888" stroke-width="0.6"/>
<circle cx="341" cy="415.0" r="1.8" fill="#000"/>
<line x1="340.5" y1="519.2" x2="340.5" y2="523.0" stroke="#111" stroke-width="0.95"/>
<path d="M262.60 514.70 L341.00 519.20 L418.00 527.60" fill="none" stroke="#000" stroke-width="2.4" stroke-linejoin="round"/>
<path d="M264.20 479.40 L341.00 483.90 L418.90 492.70" fill="none" stroke="#111" stroke-width="1.5" stroke-dasharray="1.5 3.4"/>
<line x1="264.20" y1="488.90" x2="341.00" y2="494.00" stroke="#555" stroke-width="1.0" stroke-dasharray="6.102 2.756"/>
<line x1="341.00" y1="494.00" x2="341.00" y2="501.30" stroke="#555" stroke-width="1.0"/>
<line x1="341.00" y1="501.30" x2="417.00" y2="509.00" stroke="#555" stroke-width="1.0" stroke-dasharray="6.056 2.735"/>
<path d="M291.20 513.30 C294.70 512.63 305.18 510.51 312.20 509.30 C320.50 507.87 336.20 505.47 341.00 504.70" fill="none" stroke="#555" stroke-width="1.0"/>
<path d="M341.00 504.70 C347.50 505.12 367.33 506.33 380.00 507.20 C392.34 508.04 410.83 509.45 417.00 509.90" fill="none" stroke="#555" stroke-width="1.0"/>
<path d="M307.66 510.72 L308.84 510.50 L310.00 510.29 L311.12 510.09 L312.20 509.90 L313.50 509.68 L314.89 509.44 L316.37 509.20 L317.92 508.94" fill="none" stroke="#6a6a6a" stroke-width="1.35"/>
<line x1="312.20" y1="509.90" x2="312.20" y2="511.70" stroke="#888" stroke-width="0.6"/>
<circle cx="341" cy="504.7" r="1.8" fill="#000"/>
</svg>
</body></html>
